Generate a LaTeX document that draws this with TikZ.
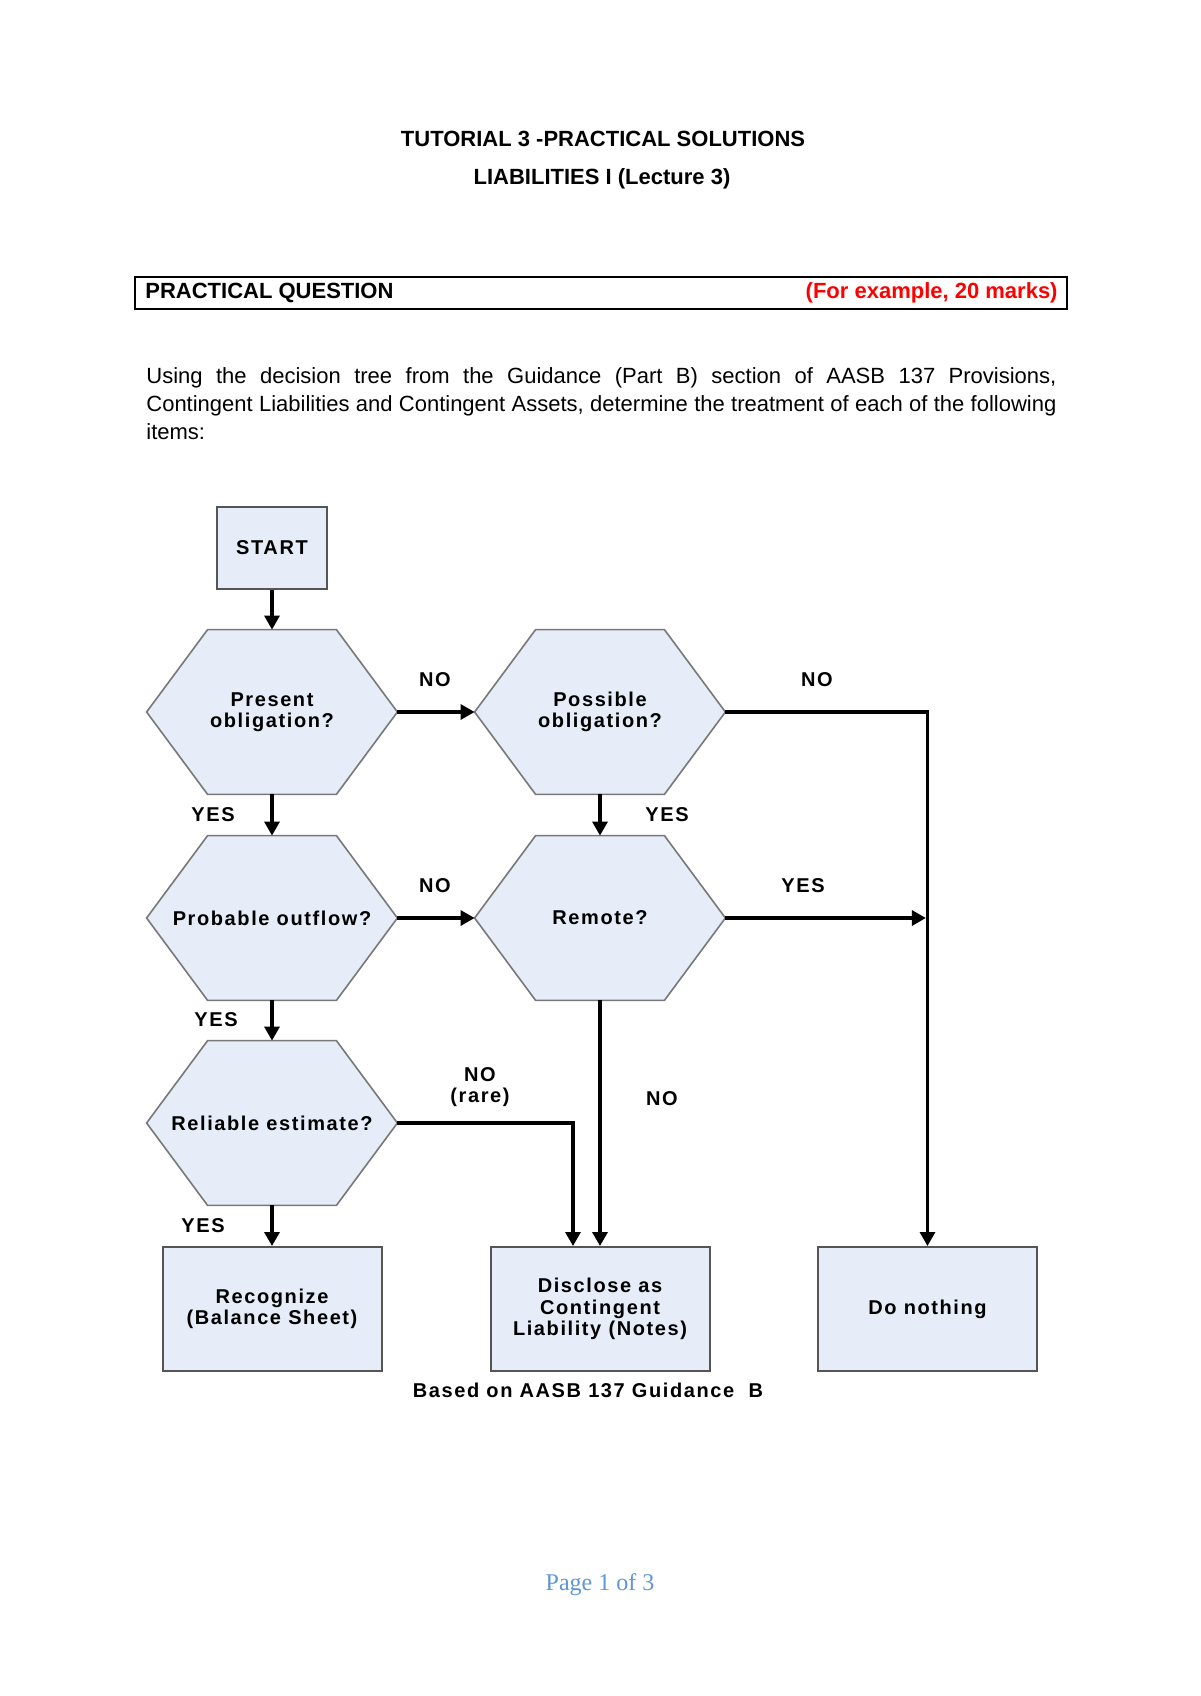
\documentclass[tikz,border=0pt]{standalone}
\usepackage{fontspec}
\setmainfont{Liberation Sans}
\newfontfamily\fcfont[LetterSpace=8]{Liberation Sans}
\newfontfamily\pgfont{Liberation Serif}
\usetikzlibrary{arrows.meta,calc,backgrounds}
\definecolor{boxfill}{RGB}{230,237,248}
\definecolor{hexline}{RGB}{120,120,120}
\definecolor{boxline}{RGB}{85,85,85}
\definecolor{markred}{RGB}{255,0,0}
\definecolor{pageblue}{RGB}{95,150,215}
\begin{document}
\begin{tikzpicture}[x=0.5pt,y=-0.5pt,
  fc/.style={font=\fcfont\bfseries\fontsize{10}{10.6}\selectfont, align=center},
  hexnode/.style={fc, minimum width=125pt, minimum height=82pt, inner sep=0pt},
  boxnode/.style={fc, draw=boxline, fill=boxfill, line width=1pt, inner sep=0pt},
  lbl/.style={fc, inner sep=0pt},
  hexshape/.style={draw=hexline, fill=boxfill, line width=0.8pt, line join=miter},
  conn/.style={line width=1.6pt, -{Triangle[length=7pt,width=7.5pt]}},
  bigbold/.style={font=\bfseries\fontsize{11}{13}\selectfont, inner sep=0pt},
  bodytext/.style={font=\fontsize{11}{13}\selectfont, inner sep=0pt, anchor=base west},
]
\useasboundingbox (0,0) rectangle (1200,1696);

% header
\node[bigbold] (t1) at (603,139) {TUTORIAL 3 -PRACTICAL SOLUTIONS};
\node[bigbold] (t2) at (602,179) {LIABILITIES I (Lecture 3)};
\node[draw=black, line width=1pt, minimum width=466pt, minimum height=16pt, inner sep=0pt] (hdr) at (601,293) {};
\node[bigbold, anchor=west] (hq) at ([xshift=5.5pt]hdr.west) {PRACTICAL QUESTION};
\node[bigbold, anchor=east, text=markred] (hm) at ([xshift=-5pt]hdr.east) {(For example, 20 marks)};

% paragraph
\node[bodytext] (l1) at (146,383.5) {\makebox[455pt][s]{Using the decision tree from the Guidance (Part B) section of AASB 137 Provisions,}};
\node[bodytext] (l2) at (146,411.5) {\makebox[455pt][s]{Contingent Liabilities and Contingent Assets, determine the treatment of each of the following}};
\node[bodytext] (l3) at (146,439.5) {items:};

% flowchart nodes
\node[boxnode, minimum width=55pt, minimum height=41pt] (start) at (272,548) {START};
\node[hexnode] (po) at (272,712) {Present\\obligation?};
\node[hexnode] (pso) at (600,712) {Possible\\obligation?};
\node[hexnode] (pb) at (272,918) {Probable outflow?};
\node[hexnode] (rm) at (600,918) {Remote?};
\node[hexnode] (re) at (272,1123) {Reliable estimate?};
\node[boxnode, minimum width=109.5pt, minimum height=62pt] (rec) at (272,1309) {Recognize\\(Balance Sheet)};
\node[boxnode, minimum width=109.5pt, minimum height=62pt] (dis) at (600,1309) {Disclose as\\Contingent\\Liability (Notes)};
\node[boxnode, minimum width=109.5pt, minimum height=62pt] (dn) at (927.5,1309) {Do nothing};

% hexagon outlines
\begin{pgfonlayer}{background}
\fill[white] (0,0) rectangle (1200,1696);
\foreach \n in {po,pso,pb,rm,re}{
  \draw[hexshape] (\n.west) -- ([xshift=30.5pt]\n.north west) -- ([xshift=-30.5pt]\n.north east) -- (\n.east) -- ([xshift=-30.5pt]\n.south east) -- ([xshift=30.5pt]\n.south west) -- cycle;
}
\end{pgfonlayer}

% labels
\node[lbl] (n1) at (435,680) {NO};
\node[lbl] (n2) at (817,680) {NO};
\node[lbl] (y1) at (213,815) {YES};
\node[lbl] (y2) at (667,815) {YES};
\node[lbl] (n3) at (435,886) {NO};
\node[lbl] (y3) at (803,886) {YES};
\node[lbl] (y4) at (216,1020) {YES};
\node[lbl] (n4) at (480,1087) {NO\\(rare)};
\node[lbl] (n5) at (662,1099) {NO};
\node[lbl] (y5) at (203,1226) {YES};
\node[lbl] (src) at (588,1390) {Based on AASB 137 Guidance\ \ B};

% connectors
\draw[conn] (start.south) -- (po.north);
\draw[conn] (po.east) -- (pso.west);
\draw[conn] (pso.east) -| (dn.north);
\draw[conn] (po.south) -- (pb.north);
\draw[conn] (pso.south) -- (rm.north);
\draw[conn] (pb.east) -- (rm.west);
\coordinate (j) at (dn.north |- rm.east);
\draw[conn, shorten >=0.8pt] (rm.east) -- (j);
\draw[conn] (pb.south) -- (re.north);
\draw[conn] (re.south) -- (rec.north);
\coordinate (dd) at ([xshift=-13.5pt]dis.north);
\draw[conn] (re.east) -| (dd);
\draw[conn] (rm.south) -- (dis.north);

% page footer
\node[font=\pgfont\fontsize{12}{14}\selectfont, text=pageblue, inner sep=0pt] (pg) at (600,1585) {Page 1 of 3};
\end{tikzpicture}
\end{document}
